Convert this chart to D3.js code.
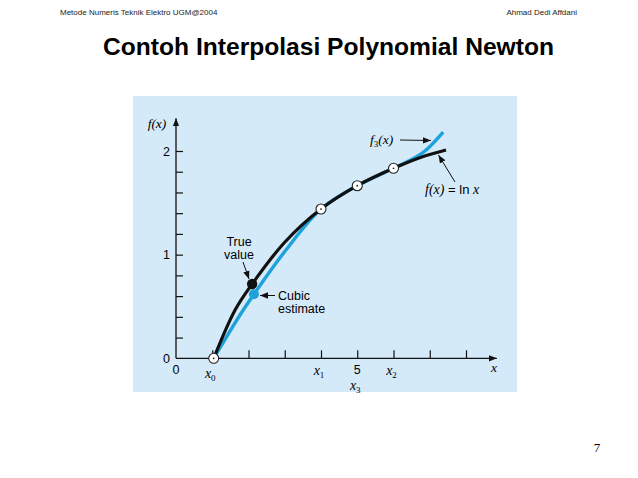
<!DOCTYPE html>
<html>
<head>
<meta charset="utf-8">
<script src="https://cdn.jsdelivr.net/npm/d3@7"></script>
<style>
  body { margin: 0; background: #fff; }
  svg text { font-family: "Liberation Sans", Arial, sans-serif; }
  svg text.math, svg tspan.math { font-family: "Liberation Serif", "Times New Roman", serif; font-style: italic; }
</style>
</head>
<body>
<div id="chart"></div>
<script>
// ln x (x, f(x))
const trueX = [1.04, 1.63, 2.1, 3, 4, 5, 6, 6.8, 7.45]
const trueY = [0, 0.466, 0.717, 1.12, 1.44, 1.665, 1.833, 1.945, 2.01]

// cubic estimate f3(x)
const cubicX = [1.04, 1.77, 2.15, 3, 4, 5, 6, 6.4, 6.85, 7.37]
const cubicY = [0, 0.42, 0.618, 1.03, 1.44, 1.665, 1.833, 1.9, 1.995, 2.183]

// base points x0, x1, x3, x2
const baseX = [1.04, 4, 5, 6]
const baseY = [0, 1.44, 1.665, 1.833]

const trueValue = {x: 2.1, y: 0.717}
const cubicValue = {x: 2.15, y: 0.618}

const xTicks = [1, 2, 3, 4, 5, 6, 7, 8]
const yTicks = [0.2, 0.4, 0.6, 0.8, 1, 1.2, 1.4, 1.6, 1.8, 2]
const xTickLabels = [0, 5]
const yTickLabels = [0, 1, 2]

const blue = "#1ea2dc"

const svg = d3.select("#chart").append("svg")
    .attr("width", 638)
    .attr("height", 478)

// header
svg.append("text").attr("x", 60).attr("y", 15)
    .style("font-size", "8px").style("fill", "#222")
    .text("Metode Numeris Teknik Elektro UGM@2004")
svg.append("text").attr("x", 577).attr("y", 15)
    .attr("text-anchor", "end")
    .style("font-size", "8px").style("fill", "#222")
    .text("Ahmad Dedi Affdani")
svg.append("text").attr("x", 103).attr("y", 55)
    .attr("textLength", 451).attr("lengthAdjust", "spacingAndGlyphs")
    .style("font-size", "23.5px").style("font-weight", "bold")
    .text("Contoh Interpolasi Polynomial Newton")
svg.append("text").attr("x", 597).attr("y", 452)
    .attr("text-anchor", "middle")
    .style("font-family", "'Liberation Serif', serif").style("font-size", "13px")
    .text("7")

// light blue panel
svg.append("rect")
    .attr("x", 133).attr("y", 96)
    .attr("width", 384).attr("height", 296)
    .attr("fill", "#d5eaf9")

const x = d3.scaleLinear().domain([0, 8.85]).range([176, 176 + 8.85 * 36.25])
const y = d3.scaleLinear().domain([0, 2]).range([358.3, 151])

const defs = svg.append("defs")
defs.append("marker")
    .attr("id", "arr")
    .attr("viewBox", "0 0 10 10")
    .attr("refX", 10).attr("refY", 5)
    .attr("markerWidth", 8).attr("markerHeight", 8)
    .attr("markerUnits", "userSpaceOnUse")
    .attr("orient", "auto")
    .append("path").attr("d", "M0,1 L10,5 L0,9 Z").attr("fill", "#111")

// axes
svg.append("g")
    .attr("transform", `translate(0,${y(0)})`)
    .call(d3.axisBottom(x).tickValues(xTicks).tickSizeInner(-8).tickSizeOuter(0).tickFormat(""))
svg.append("g")
    .attr("transform", `translate(${x(0)},0)`)
    .call(d3.axisLeft(y).tickValues(yTicks).tickSizeInner(-7).tickSizeOuter(0).tickFormat(""))
svg.selectAll(".domain").remove()
svg.selectAll(".tick line").attr("stroke", "#111").attr("stroke-width", 1.2)

svg.append("line")
    .attr("x1", x(0)).attr("y1", y(0)).attr("x2", x(8.85)).attr("y2", y(0))
    .attr("stroke", "#111").attr("stroke-width", 1.3).attr("marker-end", "url(#arr)")
svg.append("line")
    .attr("x1", x(0)).attr("y1", y(0)).attr("x2", x(0)).attr("y2", y(2.315))
    .attr("stroke", "#111").attr("stroke-width", 1.3).attr("marker-end", "url(#arr)")

// tick labels
svg.selectAll(".xlab").data(xTickLabels).enter().append("text")
    .attr("x", d => x(d)).attr("y", y(0) + 16)
    .attr("text-anchor", "middle")
    .style("font-size", "12.5px")
    .text(d => d)
svg.selectAll(".ylab").data(yTickLabels).enter().append("text")
    .attr("x", x(0) - 6).attr("y", d => y(d) + 4.5)
    .attr("text-anchor", "end")
    .style("font-size", "12.5px")
    .text(d => d)

// axis titles
svg.append("text").attr("class", "math")
    .attr("x", 157).attr("y", 128).attr("text-anchor", "middle")
    .style("font-size", "13.5px").text("f(x)")
svg.append("text").attr("class", "math")
    .attr("x", 494).attr("y", 372).attr("text-anchor", "middle")
    .style("font-size", "13.5px").text("x")

// x_i labels under the axis
const subLabels = [
    {v: 1, s: "0", dy: 20},
    {v: 4, s: "1", dy: 17},
    {v: 6, s: "2", dy: 17},
    {v: 5, s: "3", dy: 32}
]
subLabels.forEach(d => {
    const t = svg.append("text").attr("class", "math")
        .attr("x", x(d.v) - 2).attr("y", y(0) + d.dy)
        .attr("text-anchor", "middle")
        .style("font-size", "14px")
    t.append("tspan").text("x")
    t.append("tspan").attr("dy", 3).style("font-size", "9px").style("font-style", "normal").text(d.s)
})

// curves
const line = d3.line()
    .x(d => x(d[0])).y(d => y(d[1]))
    .curve(d3.curveCatmullRom.alpha(0.5))

svg.append("path")
    .datum(d3.zip(cubicX, cubicY))
    .attr("d", line)
    .attr("fill", "none").attr("stroke", blue).attr("stroke-width", 3.4)
svg.append("path")
    .datum(d3.zip(trueX, trueY))
    .attr("d", line)
    .attr("fill", "none").attr("stroke", "#111").attr("stroke-width", 3.2)

// base points
const pts = svg.selectAll(".pt").data(d3.zip(baseX, baseY)).enter().append("g")
    .attr("transform", d => `translate(${x(d[0])},${y(d[1])})`)
pts.append("circle").attr("r", 5).attr("fill", "#fff").attr("stroke", "#222").attr("stroke-width", 1.1)
pts.append("circle").attr("r", 0.9).attr("fill", "#222")

// true value & cubic estimate dots
svg.append("circle").attr("cx", x(cubicValue.x)).attr("cy", y(cubicValue.y))
    .attr("r", 5).attr("fill", blue)
svg.append("circle").attr("cx", x(trueValue.x)).attr("cy", y(trueValue.y))
    .attr("r", 5.2).attr("fill", "#111")

// annotations
function arrow(x1, y1, x2, y2) {
    svg.append("line")
        .attr("x1", x1).attr("y1", y1).attr("x2", x2).attr("y2", y2)
        .attr("stroke", "#111").attr("stroke-width", 1).attr("marker-end", "url(#arr)")
}

svg.append("text").attr("x", 239).attr("y", 246).attr("text-anchor", "middle")
    .style("font-size", "12.5px").text("True")
svg.append("text").attr("x", 239).attr("y", 259).attr("text-anchor", "middle")
    .style("font-size", "12.5px").text("value")
arrow(243, 262, 249, 279)

svg.append("text").attr("x", 278).attr("y", 300)
    .style("font-size", "12.5px").text("Cubic")
svg.append("text").attr("x", 278).attr("y", 313)
    .style("font-size", "12.5px").text("estimate")
arrow(275, 295.5, 260, 295.5)

const f3 = svg.append("text").attr("class", "math")
    .attr("x", 370).attr("y", 144).style("font-size", "13.5px")
f3.append("tspan").text("f")
f3.append("tspan").attr("dy", 3).style("font-size", "9px").style("font-style", "normal").text("3")
f3.append("tspan").attr("dy", -3).text("(x)")
arrow(400, 140, 431, 140.5)

const fl = svg.append("text").attr("x", 425).attr("y", 194).style("font-size", "13px")
fl.append("tspan").attr("class", "math").style("font-size", "14px").text("f(x)")
fl.append("tspan").text(" = ln ")
fl.append("tspan").attr("class", "math").style("font-size", "14px").text("x")
arrow(455, 182, 438.5, 155)
</script>
</body>
</html>
